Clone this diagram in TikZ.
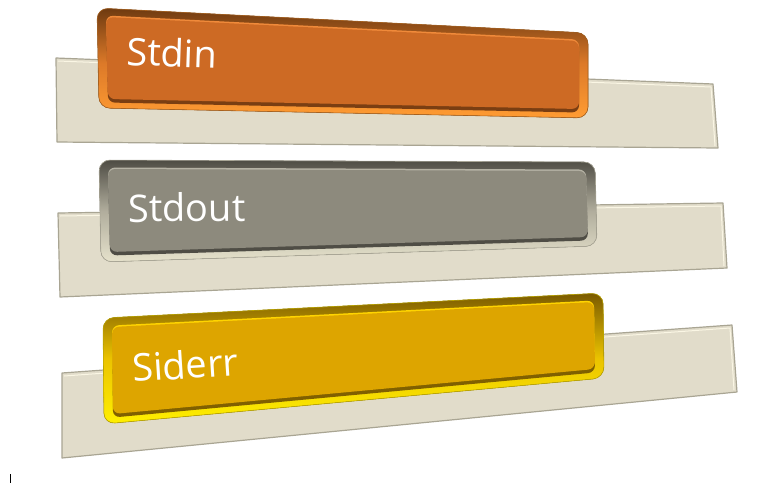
\documentclass[tikz,border=0pt]{standalone}
\usepackage{fontspec}
\setmainfont{Open Sans}
\begin{document}
\begin{tikzpicture}[x=1pt,y=-1pt,
  barshape/.style={fill=barfill,draw=baredge,line width=1.2pt,line join=round},
  barlight/.style={draw=barlight,line width=1pt},
  outerbev/.style={rounded corners=11pt,line width=0.6pt},
  innerface/.style={rounded corners=7pt},
  label/.style={font=\fontsize{38}{40}\selectfont,text=white,inner sep=0pt,anchor=base west}]
\definecolor{barfill}{HTML}{E1DCCA}
\definecolor{baredge}{HTML}{A9A593}
\definecolor{barlight}{HTML}{FAF6E4}
\definecolor{orMain}{HTML}{CD6A24}
\definecolor{orTop}{HTML}{6E3A10}
\definecolor{orBot}{HTML}{FF9C33}
\definecolor{orShadow}{HTML}{7A3E12}
\definecolor{orHi}{HTML}{F08A3A}
\definecolor{grMain}{HTML}{8D8A7D}
\definecolor{grTop}{HTML}{4E4C44}
\definecolor{grBot}{HTML}{E6E2CC}
\definecolor{grShadow}{HTML}{4F4D45}
\definecolor{grHi}{HTML}{B5B2A4}
\definecolor{yeMain}{HTML}{DDA500}
\definecolor{yeTop}{HTML}{7A5A00}
\definecolor{yeBot}{HTML}{FFF000}
\definecolor{yeShadow}{HTML}{806000}
\definecolor{yeHi}{HTML}{FFD400}
\useasboundingbox (0,0) rectangle (777,483);
\def\innerOne{(106,17) -- (579,41) -- (579,109) -- (108,99) -- cycle}
\def\innerTwo{(108,169) -- (586,171) -- (588,237) -- (110,252) -- cycle}
\def\innerThree{(112,327) -- (594,302) -- (595,369) -- (113,414) -- cycle}
% bar 1
\draw[barshape] (56,58) -- (713,84) -- (718,148) -- (57,142) -- cycle;
\draw[barlight] (58,61) -- (711,87) -- (715,146);
% box 1
\filldraw[outerbev,draw=orTop!60!orBot,top color=orTop,bottom color=orBot,middle color=orMain!70!orBot] (97,8) -- (588,33) -- (588,118) -- (99,108) -- cycle;
\fill[innerface,orShadow,yshift=-3.5pt] \innerOne;
\fill[innerface,orHi,yshift=1.5pt] \innerOne;
\fill[innerface,orMain] \innerOne;
\node[label,rotate=-2] (stdin) at (126,65) {Stdin};
% bar 2
\draw[barshape] (58,213) -- (723,203) -- (727,268) -- (60,297) -- cycle;
\draw[barlight] (60,216) -- (721,206) -- (724,266);
% box 2
\filldraw[outerbev,draw=grTop!40!grBot,top color=grTop,bottom color=grBot,middle color=grMain!60!grBot] (99,160) -- (595,162) -- (597,246) -- (101,262) -- cycle;
\fill[innerface,grShadow,yshift=-3.5pt] \innerTwo;
\fill[innerface,grHi,yshift=1.5pt] \innerTwo;
\fill[innerface,grMain] \innerTwo;
\node[label,rotate=0.5] (stdout) at (128,222) {Stdout};
% bar 3
\draw[barshape] (62,373) -- (732,325) -- (737,392) -- (62,458) -- cycle;
\draw[barlight] (64,376) -- (730,328) -- (734,390);
% box 3
\filldraw[outerbev,draw=yeTop!50!yeBot,top color=yeTop,bottom color=yeBot,middle color=yeMain!60!yeBot] (103,318) -- (603,293) -- (604,378) -- (104,424) -- cycle;
\fill[innerface,yeShadow,yshift=-3.5pt] \innerThree;
\fill[innerface,yeHi,yshift=1.5pt] \innerThree;
\fill[innerface,yeMain] \innerThree;
\node[label,rotate=3.7] (siderr) at (133,382) {Siderr};
% small mark
\coordinate (m1) at (10.5,474);
\coordinate (m2) at (10.5,483);
\draw[line width=0.8pt] (m1) -- (m2);
\end{tikzpicture}
\end{document}
